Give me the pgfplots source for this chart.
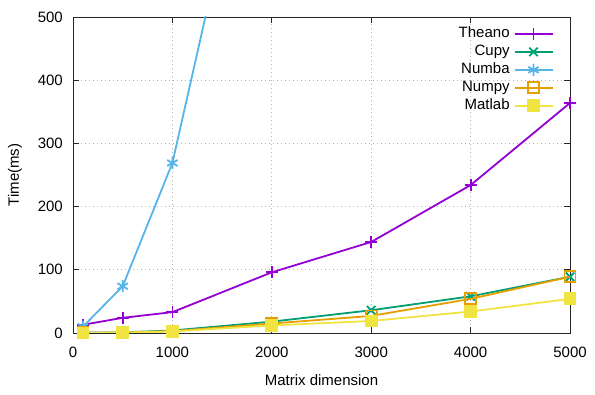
\documentclass[border=0pt]{standalone}
\usepackage{pgfplots}
\pgfplotsset{compat=1.18}
\usepackage{fontspec}
\setmainfont{Liberation Sans}
\definecolor{cTheano}{HTML}{9400D3}
\definecolor{cCupy}{HTML}{009E73}
\definecolor{cNumba}{HTML}{56B4E9}
\definecolor{cNumpy}{HTML}{E69F00}
\definecolor{cMatlab}{HTML}{F0E442}
\begin{document}
\fontsize{15bp}{17bp}\selectfont
\begin{tikzpicture}
\useasboundingbox (0,0) rectangle (595bp,395bp);
\begin{axis}[
  at={(73bp,62bp)}, anchor=south west,
  scale only axis, width=497bp, height=316bp,
  xmin=0, xmax=5000, ymin=0, ymax=500,
  xtick={0,1000,2000,3000,4000,5000},
  ytick={0,100,200,300,400,500},
  scaled x ticks=false,
  /pgf/number format/assume math mode=true,
  /pgf/number format/set thousands separator={},
  tick align=inside,
  major tick length=6bp,
  tick style={black!85, line width=0.8bp},
  axis line style={black!85, line width=0.8bp},
  grid=major,
  major grid style={gray!60, line width=0.8bp, dash pattern=on 1bp off 3bp},
  ticklabel style={font=\fontsize{15bp}{17bp}\selectfont},
  xticklabel style={yshift=-9bp},
  yticklabel style={xshift=-5bp},
  label style={font=\fontsize{15bp}{17bp}\selectfont},
  xlabel={Matrix dimension},
  ylabel={Time(ms)},
  every axis x label/.style={at={(axis description cs:0.5,-0.149)}, anchor=center},
  every axis y label/.style={at={(axis description cs:-0.1167,0.5)}, rotate=90, anchor=center},
  clip mode=individual,
  legend plot pos=right,
  legend cell align=right,
  legend image code/.code={\draw[mark repeat=2,mark phase=2] plot coordinates {(0bp,0bp) (19bp,0bp) (38bp,0bp)};},
  legend style={draw=none, fill=none, at={(axis description cs:0.967,0.975)}, anchor=north east,
    inner sep=0bp, row sep=0.5bp, column sep=2bp,
    font=\fontsize{15bp}{17bp}\selectfont,
    nodes={inner sep=2bp, text height=10.5bp, text depth=3bp}},
  every axis plot/.append style={line width=1.8bp},
]
\addplot[cTheano, mark=+, mark size=6bp] coordinates {
  (100,13) (500,24) (1000,33) (2000,96) (3000,144) (4000,234) (5000,364)};
\addlegendentry{Theano}
\addplot[cCupy, mark=x, mark size=6bp] coordinates {
  (100,0.5) (500,1) (1000,4) (2000,18) (3000,36) (4000,58) (5000,89)};
\addlegendentry{Cupy}
\addplot[cNumba, mark=asterisk, mark size=6bp] coordinates {
  (100,10) (500,74) (1000,269) (2000,965)};
\addlegendentry{Numba}
\addplot[cNumpy, mark=square, mark size=5.5bp, mark options={fill=none}] coordinates {
  (100,0.3) (500,0.8) (1000,3) (2000,15) (3000,27) (4000,54) (5000,89)};
\addlegendentry{Numpy}
\addplot[cMatlab, mark=square*, mark size=5.5bp] coordinates {
  (100,0) (500,0.5) (1000,2.5) (2000,12) (3000,19) (4000,34) (5000,54)};
\addlegendentry{Matlab}
\end{axis}
\end{tikzpicture}
\end{document}
